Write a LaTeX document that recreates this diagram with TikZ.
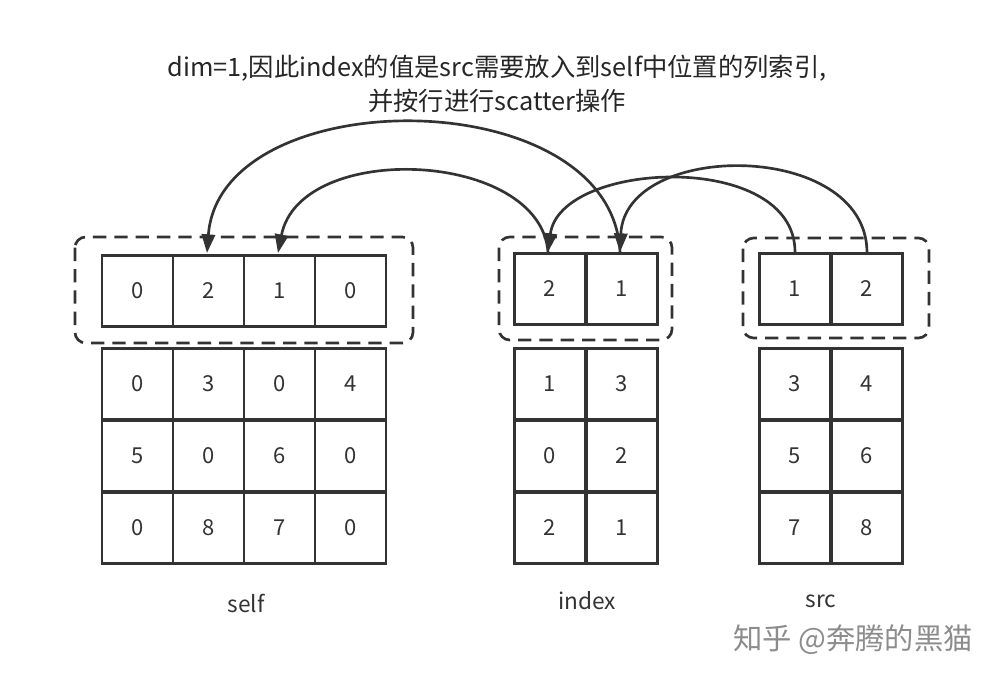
\documentclass[tikz,border=0pt]{standalone}
\usepackage{fontspec}
\setmainfont{Noto Sans CJK SC}
\usetikzlibrary{arrows.meta}
\begin{document}
\begin{tikzpicture}[x=0.75pt,y=-0.75pt,
  cell/.style={draw=black!80,line width=2.2pt,minimum width=71*0.75pt,minimum height=71*0.75pt,inner sep=0pt,font=\fontsize{16.5}{20}\selectfont,text=black!80},
  dbox/.style={draw=black!80,line width=2pt,dash pattern=on 10pt off 6pt,rounded corners=8pt},
  conn/.style={draw=black!80,line width=2pt,-{Triangle[width=10pt,length=14pt]}},
  lbl/.style={font=\fontsize{17}{20}\selectfont,text=black!80}]
\useasboundingbox (0,0) rectangle (1002,684);
% dashed boxes
\draw[dbox] (75,237) rectangle (413,343);
\draw[dbox] (499,237) rectangle (672,340);
\draw[dbox] (743,238) rectangle (929,338);
% self
\foreach \v [count=\i] in {0,2,1,0} \node[cell] (s0\i) at (102+71*\i-35.5,291) {\v};
\foreach \r/\row in {1/{0,3,0,4},2/{5,0,6,0},3/{0,8,7,0}}{
  \foreach \v [count=\i] in \row \node[cell] (s\r\i) at (102+71*\i-35.5,348+72*\r-36) {\v};}
% index
\foreach \v [count=\i] in {2,1} \node[cell] (i0\i) at (514+72*\i-36,289) {\v};
\foreach \r/\row in {1/{1,3},2/{0,2},3/{2,1}}{
  \foreach \v [count=\i] in \row \node[cell] (i\r\i) at (514+72*\i-36,348+72*\r-36) {\v};}
% src
\foreach \v [count=\i] in {1,2} \node[cell] (c0\i) at (759+72*\i-36,289) {\v};
\foreach \r/\row in {1/{3,4},2/{5,6},3/{7,8}}{
  \foreach \v [count=\i] in \row \node[cell] (c\r\i) at (759+72*\i-36,348+72*\r-36) {\v};}
% labels
\node[lbl] (ls) at (246,603) {self};
\node[lbl] (li) at (587,601) {index};
\node[lbl] (lc) at (821,601) {src};
\node[font=\fontsize{19}{25}\selectfont,text=black!85,align=center] (title) at (497,84) {dim=1,因此index的值是src需要放入到self中位置的列索引,\\并按行进行scatter操作};
\node[font=\fontsize{22}{26}\selectfont,text=black!45] (wm) at (853,640) {知乎 @奔腾的黑猫};
% connectors
\coordinate (a1) at (548,252);
\coordinate (a2) at (620,252);
\coordinate (b1) at (207,253);
\coordinate (b2) at (278,253);
\draw[conn] (c01.north) .. controls (795,150) and (560,160) .. (a1);
\draw[conn] (c02.north) .. controls (866,140) and (625,140) .. (a2);
\draw[conn] (a1) .. controls (540,150) and (300,140) .. (b2);
\draw[conn] (a2) .. controls (612,80) and (220,80) .. (b1);
\end{tikzpicture}
\end{document}
